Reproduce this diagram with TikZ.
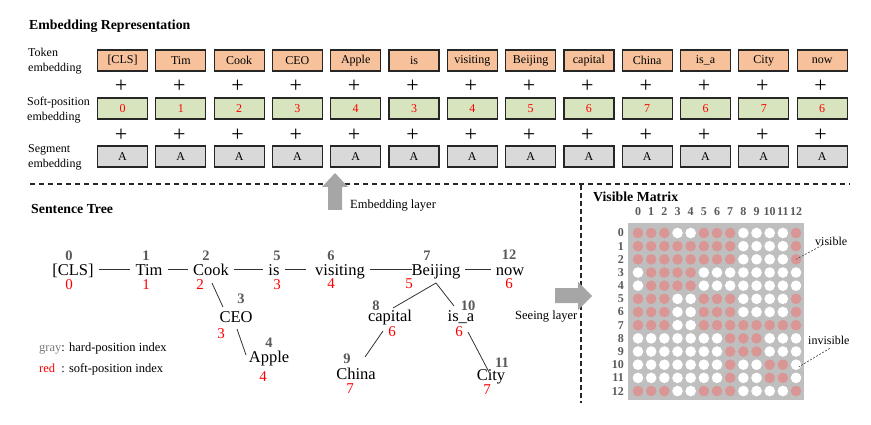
\documentclass[tikz,border=0pt]{standalone}
\usepackage{fontspec}
\setmainfont{Liberation Serif}
\usetikzlibrary{calc}
\definecolor{tokfill}{HTML}{F7C29B}
\definecolor{posfill}{HTML}{D7E4BD}
\definecolor{segfill}{HTML}{D9D9D9}
\definecolor{boxline}{HTML}{262626}
\definecolor{idxgray}{HTML}{595959}
\definecolor{pinkc}{HTML}{DA9694}
\definecolor{matbg}{HTML}{BFBFBF}
\definecolor{arrowgray}{HTML}{A6A6A6}
\definecolor{redc}{HTML}{FF0000}
\colorlet{mc0}{white}
\colorlet{mc1}{pinkc}
\begin{document}
\begin{tikzpicture}[x=1pt,y=-1pt,
  ebox/.style={draw=boxline, line width=1.2pt, minimum width=50pt, minimum height=21pt, inner sep=0pt, font=\fontsize{12}{14}\selectfont},
  tokbox/.style={ebox, fill=tokfill},
  posbox/.style={ebox, fill=posfill, text=redc},
  segbox/.style={ebox, fill=segfill},
  plussign/.style={font=\fontsize{22}{22}\selectfont, inner sep=0pt},
  rowlab/.style={anchor=west, align=left, font=\fontsize{12}{15}\selectfont, inner sep=0pt},
  ttl/.style={anchor=base west, font=\bfseries\fontsize{13.8}{16}\selectfont, inner sep=0pt},
  word/.style={anchor=base, font=\fontsize{16.5}{18}\selectfont, inner xsep=5pt, inner ysep=0pt},
  hidx/.style={anchor=base, font=\bfseries\fontsize{14.5}{16}\selectfont, text=idxgray, inner sep=0pt},
  sidx/.style={anchor=base, font=\fontsize{15}{16}\selectfont, text=redc, inner sep=0pt},
  link/.style={draw=black!80, line width=0.8pt},
  sepline/.style={draw=black!85, line width=1.2pt, dash pattern=on 5pt off 4pt},
  note/.style={anchor=base west, font=\fontsize{12.5}{14}\selectfont, inner sep=0pt},
  dot/.style={circle, minimum size=10.6pt, inner sep=0pt},
  mlab/.style={font=\bfseries\fontsize{12}{14}\selectfont, text=idxgray, inner sep=0pt},
  ptr/.style={draw=black!75, line width=0.6pt, dash pattern=on 2pt off 1.5pt}
]
\useasboundingbox (0,0) rectangle (871,425);

% ---------- Embedding representation ----------
\node[ttl] (etitle) at (29,30) {Embedding Representation};
\node[rowlab] (ltok) at (28,61) {Token\\embedding};
\node[rowlab] (lpos) at (27,110) {Soft-position\\embedding};
\node[rowlab] (lseg) at (28,157) {Segment\\embedding};

\foreach \tok/\pos [count=\i from 0] in {[CLS]/0, Tim/1, Cook/2, CEO/3, Apple/4, is/3, visiting/4, Beijing/5, capital/6, China/7, is\_a/6, City/7, now/6} {
  \node[tokbox] (t\i) at ({122.5+58.3*\i},60.5) {\tok};
  \node[plussign] (pa\i) at ({121+58.3*\i},86) {+};
  \node[posbox] (p\i) at ({122.5+58.3*\i},108.5) {\pos};
  \node[plussign] (pb\i) at ({121+58.3*\i},135) {+};
  \node[segbox] (s\i) at ({122.5+58.3*\i},156.5) {A};
}

% ---------- separators ----------
\coordinate (hs1) at (30,184);
\coordinate (hs2) at (850,184);
\coordinate (vs1) at (581,185);
\coordinate (vs2) at (581,403);
\draw[sepline] (hs1) -- (hs2);
\draw[sepline, dash pattern=on 5pt off 3pt] (vs1) -- (vs2);

% ---------- arrows ----------
\fill[arrowgray] (328,210) -- (328,187) -- (322,187) -- (335,173) -- (348,187) -- (342,187) -- (342,210) -- cycle;
\node[note] (embl) at (350,208) {Embedding layer};
\fill[arrowgray] (555,288) -- (578,288) -- (578,282) -- (592,296) -- (578,310) -- (578,303) -- (555,303) -- cycle;
\node[note] (seel) at (515,319) {Seeing layer};

% ---------- Sentence tree ----------
\node[ttl] (stitle) at (31,214) {Sentence Tree};

\node[word] (cls) at (73,276) {[CLS]};
\node[word] (tim) at (149,276) {Tim};
\node[word] (cook) at (211,276) {Cook};
\node[word] (is) at (274,276) {is};
\node[word] (visiting) at (340,276) {visiting};
\node[word] (beijing) at (436,276) {Beijing};
\node[word] (now) at (510,276) {now};
\node[word] (ceo) at (236,322) {CEO};
\node[word] (apple) at (269,362) {Apple};
\node[word] (capital) at (390,321) {capital};
\node[word] (isa) at (461,321) {is\_a};
\node[word] (china) at (356,379) {China};
\node[word] (city) at (491,380) {City};

\node[hidx] (g0) at (69,260) {0};
\node[hidx] (g1) at (146,260) {1};
\node[hidx] (g2) at (206,260) {2};
\node[hidx] (g5) at (277,260) {5};
\node[hidx] (g6) at (331,260) {6};
\node[hidx] (g7) at (427,260) {7};
\node[hidx] (g12) at (509,259) {12};
\node[hidx] (g3) at (241,303) {3};
\node[hidx] (g4) at (269,347) {4};
\node[hidx] (g8) at (376,310) {8};
\node[hidx] (g10) at (468,310) {10};
\node[hidx] (g9) at (347,363) {9};
\node[hidx] (g11) at (502,367) {11};

\node[sidx] (r0) at (69,289) {0};
\node[sidx] (r1) at (146,289) {1};
\node[sidx] (r2) at (200,289) {2};
\node[sidx] (r3) at (277,289) {3};
\node[sidx] (r4) at (331,288) {4};
\node[sidx] (r5) at (409,288) {5};
\node[sidx] (r6) at (509,288) {6};
\node[sidx] (r3b) at (221,338) {3};
\node[sidx] (r4b) at (263,381) {4};
\node[sidx] (r6b) at (392,336) {6};
\node[sidx] (r6c) at (459,336) {6};
\node[sidx] (r7) at (350,393) {7};
\node[sidx] (r7b) at (487,394) {7};

\draw[link] ([yshift=7pt]cls.base east) -- ([yshift=7pt]tim.base west);
\draw[link] ([yshift=7pt]tim.base east) -- ([yshift=7pt]cook.base west);
\draw[link] ([yshift=7pt]cook.base east) -- ([yshift=7pt]is.base west);
\draw[link, shorten >=4pt] ([yshift=7pt]is.base east) -- ([yshift=7pt]visiting.base west);
\draw[link, shorten >=-5pt] ([yshift=7pt]visiting.base east) -- ([yshift=7pt]beijing.base west);
\draw[link] ([yshift=7pt]beijing.base east) -- ([yshift=7pt]now.base west);
\draw[link] ($(cook.base)+(1,7)$) -- ($(ceo.base)+(-13,-15)$);
\draw[link] ($(ceo.base)+(1,7)$) -- ($(apple.base)+(-23,-7)$);
\draw[link] ($(beijing.base)+(0,7)$) -- ($(capital.base)+(3,-13)$);
\draw[link] ($(beijing.base)+(0,7)$) -- ($(isa.base)+(-7,-15)$);
\draw[link] ($(capital.base)+(-7,10)$) -- ($(china.base)+(9,-22)$);
\draw[link] ($(isa.base)+(7,11)$) -- ($(city.base)+(-2,-8)$);

\node[note] (leg1) at (39,351) {{\color{idxgray!80}gray}: hard-position index};
\node[note] (leg2) at (39,372) {\rlap{\color{redc}red}\phantom{gray}: soft-position index};

% ---------- Visible matrix ----------
\node[ttl] (mtitle) at (593,202) {Visible Matrix};
\node[fill=matbg, minimum width=176pt, minimum height=177pt, inner sep=0pt] (mat) at (716,311.5) {};
\foreach \j in {0,...,12} {
  \node[mlab, anchor=base] (cl\j) at ({638+13.17*\j},216) {\j};
}
\foreach \rowv [count=\i from 0] in {
  {1,1,1,0,0,1,1,1,0,0,0,0,1},
  {1,1,1,1,1,1,1,1,0,0,0,0,1},
  {1,1,1,1,1,1,1,1,0,0,0,0,1},
  {0,1,1,1,1,0,0,0,0,0,0,0,0},
  {0,1,1,1,1,0,0,0,0,0,0,0,0},
  {1,1,1,0,0,1,1,1,0,0,0,0,1},
  {1,1,1,0,0,1,1,1,0,0,0,0,1},
  {1,1,1,0,0,1,1,1,1,1,1,1,1},
  {0,0,0,0,0,0,0,1,1,1,0,0,0},
  {0,0,0,0,0,0,0,1,1,1,0,0,0},
  {0,0,0,0,0,0,0,1,0,0,1,1,0},
  {0,0,0,0,0,0,0,1,0,0,1,1,0},
  {1,1,1,0,0,1,1,1,0,0,0,0,1}} {
  \node[mlab, anchor=east] (rl\i) at (624,{233+13.17*\i}) {\i};
  \foreach \v [count=\j from 0] in \rowv {
    \node[dot, fill=mc\v] (m\i-\j) at ({638+13.17*\j},{233+13.17*\i}) {};
  }
}
\node[note, font=\fontsize{12}{14}\selectfont] (vis) at (815,245) {visible};
\node[note, font=\fontsize{12}{14}\selectfont] (invis) at (808,344) {invisible};
\draw[ptr] ($(vis.south west)+(7,0)$) -- (m2-12.center);
\draw[ptr] ($(invis.south)+(1,4)$) -- ($(m10-12.center)+(3,2)$);
\end{tikzpicture}
\end{document}
